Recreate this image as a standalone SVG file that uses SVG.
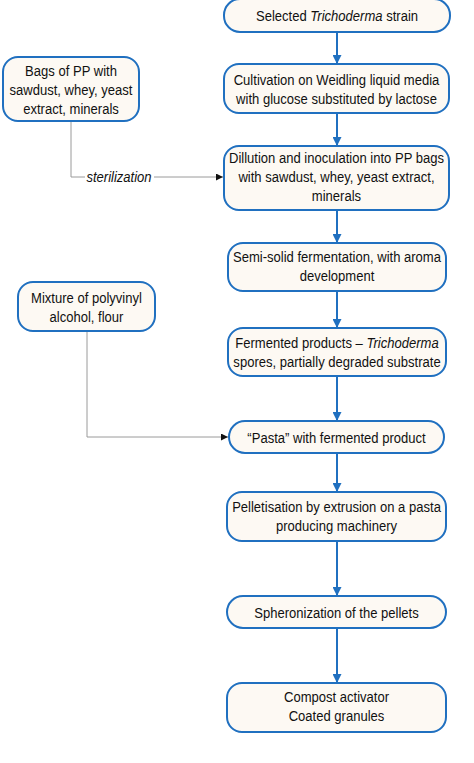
<svg xmlns="http://www.w3.org/2000/svg" width="474" height="763" viewBox="0 0 474 763">
<style>
.box{fill:#fdf9f3;stroke:#2070c0;stroke-width:2}
.t{font-family:"Liberation Sans",Arial,sans-serif;font-size:15px;fill:#111;text-anchor:middle}
.i{font-style:italic}
.flow{stroke:#2070c0;stroke-width:2;fill:none;marker-end:url(#ab)}
.side{stroke:#9a9a9a;stroke-width:1;fill:none;marker-end:url(#ak)}
</style>
<defs>
<marker id="ab" viewBox="0 0 10 10" refX="10" refY="5" markerUnits="userSpaceOnUse" markerWidth="9" markerHeight="9" orient="auto"><path d="M0,0 L10,5 L0,10 z" fill="#2070c0"/></marker>
<marker id="ak" viewBox="0 0 10 10" refX="10" refY="5" markerUnits="userSpaceOnUse" markerWidth="7" markerHeight="7" orient="auto"><path d="M0,0 L10,5 L0,10 z" fill="#111"/></marker>
</defs>
<rect width="474" height="763" fill="#fff"/>
<g id="connectors">
<path class="flow" d="M337 32 V64"/>
<path class="flow" d="M337 113 V146"/>
<path class="flow" d="M337 210 V243"/>
<path class="flow" d="M337 291 V328"/>
<path class="flow" d="M337 376 V421"/>
<path class="flow" d="M337 453 V492"/>
<path class="flow" d="M337 541 V596"/>
<path class="flow" d="M337 628 V683"/>
<path class="side" d="M71 121 V177 H85 M154 177 H223"/>
<text class="t i" transform="translate(119 182) scale(0.87 1)">sterilization</text>
<path class="side" d="M87 331 V437 H228"/>
</g>
<g id="n1">
<rect class="box" x="224" y="-1" width="226" height="33" rx="16"/>
<text class="t" transform="translate(337 20.5) scale(0.87 1)">Selected <tspan class="i">Trichoderma</tspan> strain</text>
</g>
<g id="n2">
<rect class="box" x="224" y="64" width="225" height="49" rx="15"/>
<text class="t" transform="translate(336.5 0) scale(0.87 1)"><tspan x="0" y="85">Cultivation on Weidling liquid media</tspan><tspan x="0" y="104">with glucose substituted by lactose</tspan></text>
</g>
<g id="n3">
<rect class="box" x="224" y="146" width="225" height="64" rx="15"/>
<text class="t" transform="translate(336.5 0) scale(0.87 1)"><tspan x="0" y="163.5">Dillution and inoculation into PP bags</tspan><tspan x="0" y="182.5">with sawdust, whey, yeast extract,</tspan><tspan x="0" y="201.5">minerals</tspan></text>
</g>
<g id="n4">
<rect class="box" x="228" y="243" width="218" height="48" rx="15"/>
<text class="t" transform="translate(337 0) scale(0.87 1)"><tspan x="0" y="262.5">Semi-solid fermentation, with aroma</tspan><tspan x="0" y="281.5">development</tspan></text>
</g>
<g id="n5">
<rect class="box" x="228" y="328" width="218" height="48" rx="15"/>
<text class="t" transform="translate(337 0) scale(0.87 1)"><tspan x="0" y="348">Fermented products – <tspan class="i">Trichoderma</tspan></tspan><tspan x="0" y="367">spores, partially degraded substrate</tspan></text>
</g>
<g id="n6">
<rect class="box" x="229" y="421" width="215" height="32" rx="16"/>
<text class="t" transform="translate(336.5 442.5) scale(0.87 1)">“Pasta” with fermented product</text>
</g>
<g id="n7">
<rect class="box" x="227" y="492" width="219" height="49" rx="15"/>
<text class="t" transform="translate(336.5 0) scale(0.87 1)"><tspan x="0" y="512.5">Pelletisation by extrusion on a pasta</tspan><tspan x="0" y="531.5">producing machinery</tspan></text>
</g>
<g id="n8">
<rect class="box" x="227" y="596" width="219" height="32" rx="16"/>
<text class="t" transform="translate(336.5 617.5) scale(0.87 1)">Spheronization of the pellets</text>
</g>
<g id="n9">
<rect class="box" x="227" y="683" width="219" height="49" rx="15"/>
<text class="t" transform="translate(336.5 0) scale(0.87 1)"><tspan x="0" y="702.5">Compost activator</tspan><tspan x="0" y="721.5">Coated granules</tspan></text>
</g>
<g id="s1">
<rect class="box" x="3" y="57" width="136" height="64" rx="15"/>
<text class="t" transform="translate(71 0) scale(0.87 1)"><tspan x="0" y="76">Bags of PP with</tspan><tspan x="0" y="95">sawdust, whey, yeast</tspan><tspan x="0" y="114">extract, minerals</tspan></text>
</g>
<g id="s2">
<rect class="box" x="18" y="282" width="137" height="49" rx="15"/>
<text class="t" transform="translate(86.5 0) scale(0.87 1)"><tspan x="0" y="303">Mixture of polyvinyl</tspan><tspan x="0" y="322">alcohol, flour</tspan></text>
</g>
</svg>
